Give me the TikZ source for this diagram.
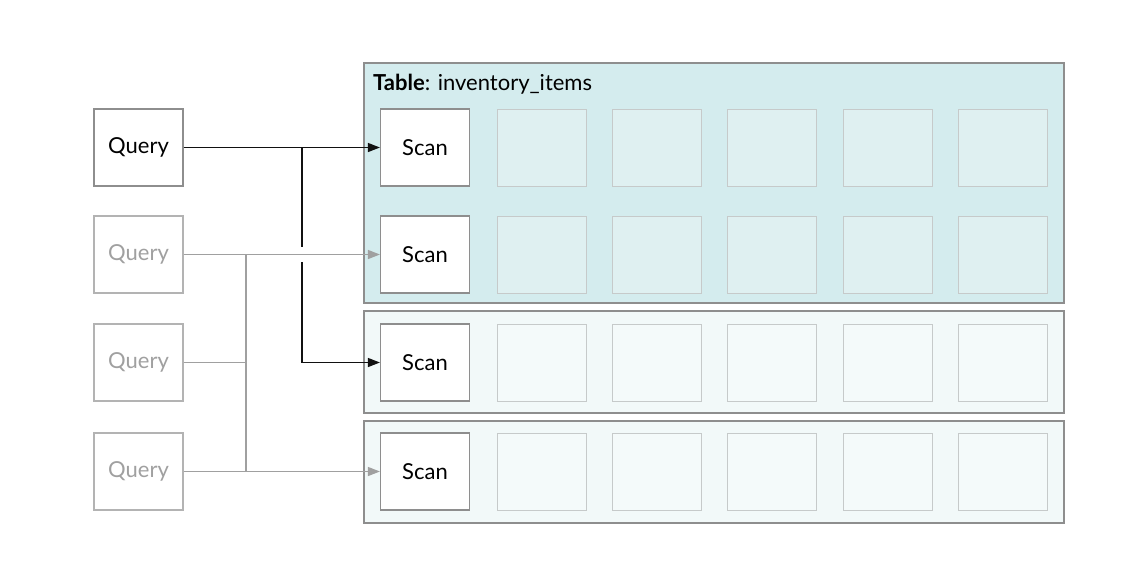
\documentclass[tikz,border=0pt]{standalone}
\usepackage{fontspec}
\setmainfont{Lato}
\usetikzlibrary{arrows.meta}
\definecolor{tabA}{HTML}{D4ECEE}
\definecolor{cellA}{HTML}{DFF0F1}
\definecolor{tabB}{HTML}{F2F9F9}
\definecolor{cellB}{HTML}{F4FAFA}
\definecolor{frame}{HTML}{8E8E8E}
\definecolor{cellline}{HTML}{C6CACA}
\definecolor{faint}{HTML}{A0A0A0}
\definecolor{ink}{HTML}{111111}
\tikzset{
  tablebox/.style={draw=frame, line width=1.2pt, minimum width=700pt, inner sep=0pt},
  querybox/.style={draw=#1, fill=white, line width=1.2pt, minimum width=89pt, minimum height=77pt, inner sep=0pt, font=\fontsize{22}{26}\selectfont},
  scanbox/.style={draw=frame, fill=white, line width=1.2pt, minimum width=89pt, minimum height=77pt, inner sep=0pt, font=\fontsize{22}{26}\selectfont},
  cellbox/.style={draw=cellline, fill=#1, line width=1pt, minimum width=89pt, minimum height=77pt, inner sep=0pt},
  darkarrow/.style={draw=ink, line width=1.3pt, -{Triangle[length=12pt,width=9pt]}},
  darkline/.style={draw=ink, line width=1.3pt},
  greyarrow/.style={draw=faint, line width=1.3pt, -{Triangle[length=12pt,width=9pt]}},
  greyline/.style={draw=faint, line width=1.3pt},
}
\begin{document}
\begin{tikzpicture}[x=1pt,y=-1pt]
\useasboundingbox (0,0) rectangle (1125,582);
% tables
\node[tablebox, fill=tabA, minimum height=240pt] (t1) at (714,183) {};
\node[tablebox, fill=tabB, minimum height=102pt] (t2) at (714,362) {};
\node[tablebox, fill=tabB, minimum height=102pt] (t3) at (714,472) {};
\node[anchor=west, inner sep=0pt, font=\fontsize{22}{26}\selectfont] (title) at (373,84) {\textbf{Table}: inventory\_items};
% query boxes
\node[querybox=frame] (q1) at (138.5,147.5) {Query};
\node[querybox=faint!80, text=faint] (q2) at (138.5,254.5) {Query};
\node[querybox=faint!80, text=faint] (q3) at (138.5,362.5) {Query};
\node[querybox=faint!80, text=faint] (q4) at (138.5,471.5) {Query};
% scan boxes
\node[scanbox] (s1) at (425,147.5) {Scan};
\node[scanbox] (s2) at (425,254.5) {Scan};
\node[scanbox] (s3) at (425,362.5) {Scan};
\node[scanbox] (s4) at (425,471.5) {Scan};
% cells
\foreach \x [count=\i] in {541.5,656.5,771.5,887.5,1002.5}{
  \node[cellbox=cellA] (c1\i) at (\x,147.5) {};
  \node[cellbox=cellA] (c2\i) at (\x,254.5) {};
  \node[cellbox=cellB] (c3\i) at (\x,362.5) {};
  \node[cellbox=cellB] (c4\i) at (\x,471.5) {};
}
% grey connectors
\coordinate (ga) at (246,254.5);
\coordinate (gb) at (246,471.5);
\draw[greyarrow] (q2.east) -- (s2.west);
\draw[greyline] (ga) -- (gb);
\draw[greyline] (q3.east) -- (246,362.5);
\draw[greyarrow] (q4.east) -- (s4.west);
% dark connectors
\coordinate (da) at (302,147.5);
\coordinate (db) at (302,247);
\coordinate (dc) at (302,262);
\coordinate (dd) at (302,362.5);
\draw[darkarrow] (q1.east) -- (s1.west);
\draw[darkline] (da) -- (db);
\draw[darkarrow] (dc) -- (dd) -- (s3.west);
\end{tikzpicture}
\end{document}
